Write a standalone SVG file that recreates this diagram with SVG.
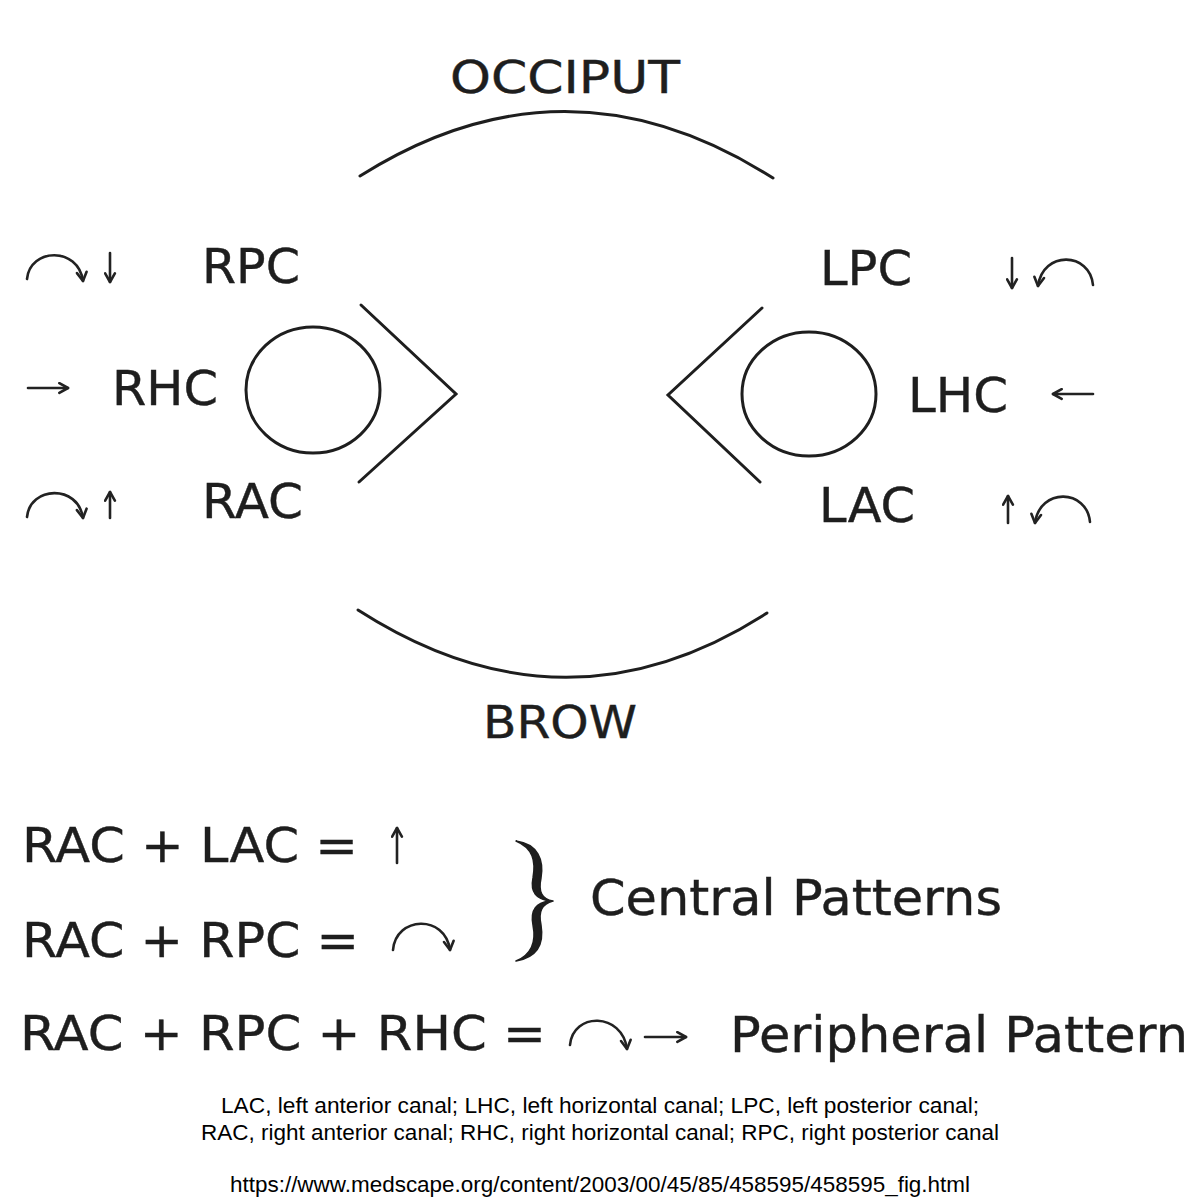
<svg xmlns="http://www.w3.org/2000/svg" width="1200" height="1200" viewBox="0 0 1200 1200">
<defs>
<marker id="ah" viewBox="0 0 12 12" refX="10" refY="6" markerWidth="13" markerHeight="13" orient="auto" markerUnits="userSpaceOnUse">
<path d="M2,1.5 L10,6 L2,10.5" fill="none" stroke="#222" stroke-width="2.4" stroke-linecap="round" stroke-linejoin="round"/>
</marker>
<style>
.lbl{font-family:"DejaVu Sans","Verdana",sans-serif;fill:#1e1e1e;stroke:#1e1e1e;stroke-width:0.4;}
.cap{font-family:"Liberation Sans",Arial,sans-serif;fill:#000;font-size:22px;}
.ln{fill:none;stroke:#1e1e1e;stroke-width:3;stroke-linecap:round;stroke-linejoin:miter;}
.ar{fill:none;stroke:#222;stroke-width:2.6;stroke-linecap:round;marker-end:url(#ah);}
</style>
</defs>
<rect width="1200" height="1200" fill="#fff"/>

<g id="occiput">
<path class="ln" d="M360,176 Q566,46 773,178"/>
<text class="lbl" x="450" y="93" font-size="44" textLength="230" lengthAdjust="spacingAndGlyphs">OCCIPUT</text>
</g>
<g id="brow">
<path class="ln" d="M358,610 Q565,743 767,613"/>
<text class="lbl" x="483" y="738" font-size="45" textLength="154" lengthAdjust="spacingAndGlyphs">BROW</text>
</g>

<g id="right-ear">
<ellipse class="ln" cx="313" cy="390" rx="67" ry="63"/>
<path class="ln" d="M361,305 L456,394 L359,482" stroke-width="3.5"/>
<text class="lbl" x="202" y="283" font-size="48" textLength="98" lengthAdjust="spacingAndGlyphs">RPC</text>
<text class="lbl" x="112" y="405" font-size="48" textLength="106" lengthAdjust="spacingAndGlyphs">RHC</text>
<text class="lbl" x="202" y="518" font-size="48" textLength="101" lengthAdjust="spacingAndGlyphs">RAC</text>
</g>

<g id="left-ear">
<ellipse class="ln" cx="809" cy="394" rx="67" ry="62"/>
<path class="ln" d="M762,308 L668,395 L760,482" stroke-width="3.5"/>
<text class="lbl" x="820" y="285" font-size="48" textLength="92" lengthAdjust="spacingAndGlyphs">LPC</text>
<text class="lbl" x="908" y="412" font-size="48" textLength="100" lengthAdjust="spacingAndGlyphs">LHC</text>
<text class="lbl" x="819" y="522" font-size="48" textLength="96" lengthAdjust="spacingAndGlyphs">LAC</text>
</g>

<g id="arrows">
<path class="ar" d="M27,279 C30,248 78,246 83,281"/>
<path class="ar" d="M110,253 L110,282"/>
<path class="ar" d="M28,388 L68,388"/>
<path class="ar" d="M27,517 C30,486 78,484 83,518"/>
<path class="ar" d="M110,518 L110,492"/>
<path class="ar" d="M1012,258 L1012,288"/>
<path class="ar" d="M1093,285 C1090,252 1043,250 1038,286"/>
<path class="ar" d="M1093,394 L1053,394"/>
<path class="ar" d="M1008,523 L1008,496"/>
<path class="ar" d="M1090,522 C1087,489 1040,487 1035,523"/>
<path class="ar" d="M397,863 L397,828"/>
<path class="ar" d="M393,950 C396,916 445,914 450,950"/>
<path class="ar" d="M570,1045 C573,1012 622,1012 627,1049"/>
<path class="ar" d="M645,1037 L686,1037"/>
</g>

<g id="equations">
<text class="lbl" x="22" y="862" font-size="48" textLength="336" lengthAdjust="spacingAndGlyphs">RAC + LAC =</text>
<text class="lbl" x="22" y="957" font-size="48" textLength="337" lengthAdjust="spacingAndGlyphs">RAC + RPC =</text>
<text class="lbl" x="20" y="1050" font-size="48" textLength="526" lengthAdjust="spacingAndGlyphs">RAC + RPC + RHC =</text>
<path d="M516,841 C538,844 544,860 541,878 C538,892 542,899 553,901 C542,904 538,911 541,925 C544,943 538,957 516,961 C533,954 536,940 533,925 C530,909 537,903 549,901 C537,899 530,893 533,878 C536,861 533,848 516,841 Z" fill="#1e1e1e" stroke="#1e1e1e" stroke-width="1.5" stroke-linejoin="round"/>
<text class="lbl" x="590" y="915" font-size="50" textLength="412" lengthAdjust="spacingAndGlyphs">Central Patterns</text>
<text class="lbl" x="730" y="1052" font-size="50" textLength="458" lengthAdjust="spacingAndGlyphs">Peripheral Pattern</text>
</g>

<g id="caption">
<text class="cap" x="600" y="1113" text-anchor="middle" textLength="758" lengthAdjust="spacingAndGlyphs">LAC, left anterior canal; LHC, left horizontal canal; LPC, left posterior canal;</text>
<text class="cap" x="600" y="1140" text-anchor="middle" textLength="798" lengthAdjust="spacingAndGlyphs">RAC, right anterior canal; RHC, right horizontal canal; RPC, right posterior canal</text>
<text class="cap" x="600" y="1192" text-anchor="middle" textLength="740" lengthAdjust="spacingAndGlyphs">https://www.medscape.org/content/2003/00/45/85/458595/458595_fig.html</text>
</g>
</svg>
